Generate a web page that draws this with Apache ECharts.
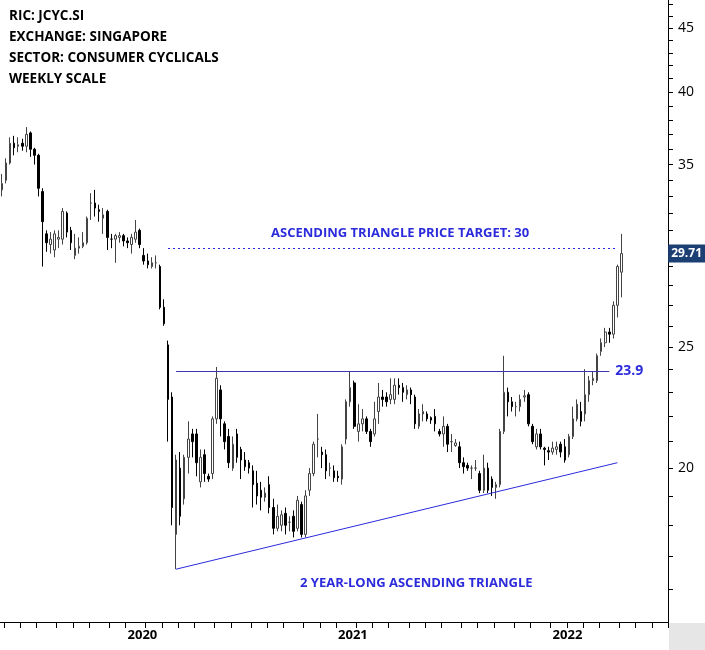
<!DOCTYPE html>
<html><head><meta charset="utf-8">
<script src="https://cdn.jsdelivr.net/npm/echarts@6/dist/echarts.min.js"></script>
<style>html,body{margin:0;padding:0;background:#fff}#c{width:705px;height:650px}</style>
</head><body><div id="c"></div>
<script>
// weekly candles [open, close, low, high]
const candles = [
[33.4,33.8,33.0,34.4],[34.0,35.1,33.8,35.4],[35.1,36.4,35.0,36.8],[36.4,36.1,35.6,36.9],[36.2,36.3,35.8,36.8],
[36.4,36.2,35.9,36.7],[36.2,37.0,35.8,37.5],[37.1,36.0,35.5,37.2],[36.0,35.6,35.0,36.1],[35.6,33.5,33.0,35.7],
[33.3,31.5,29.0,33.5],[30.8,30.3,29.8,31.0],[30.2,30.5,29.7,30.9],[29.9,30.8,29.5,31.0],[30.5,30.6,30.0,31.0],
[30.5,32.1,30.2,32.3],[32.0,30.9,30.6,32.1],[31.0,30.3,29.9,31.2],[29.6,30.0,29.4,30.8],[30.0,30.1,29.7,30.6],
[30.1,30.3,30.0,30.9],[30.3,31.7,30.2,31.8],[32.6,32.6,31.6,33.2],[32.6,32.3,31.8,33.4],[32.2,32.1,31.5,32.5],
[31.7,31.9,30.8,32.3],[32.1,30.6,29.9,32.2],[30.5,30.5,30.0,30.8],[30.5,30.7,29.2,30.8],[30.6,30.7,30.3,30.9],
[30.7,30.4,30.1,30.8],[30.4,30.3,30.0,30.6],[30.2,30.6,29.7,30.8],[30.5,30.9,30.3,31.6],[31.0,30.2,30.0,31.1],
[29.6,29.3,29.1,30.0],[29.3,29.1,28.9,29.7],[29.0,29.2,28.9,29.5],[29.2,29.2,28.9,29.6],[29.0,26.9,26.8,29.1],
[26.9,26.1,26.0,27.3],[25.1,22.7,21.0,25.3],[22.8,18.6,18.0,23.0],[17.7,20.3,16.6,20.5],[20.0,18.3,18.0,20.6],
[18.9,20.4,18.7,20.5],[20.4,21.1,19.8,21.8],[21.3,21.0,20.4,21.5],[21.3,20.2,19.7,21.5],[19.5,20.4,19.3,20.7],
[20.5,19.8,19.5,20.7],[19.7,19.6,19.5,19.8],[19.8,21.9,19.6,22.0],[21.9,23.6,21.7,24.1],[23.1,21.9,21.2,23.3],
[21.7,21.0,20.7,21.8],[21.2,20.2,20.0,21.5],[20.0,20.9,19.9,21.2],[21.3,20.4,20.2,21.5],[20.7,20.3,19.6,20.8],
[20.3,20.05,19.9,20.6],[20.2,20.0,19.8,20.3],[19.9,19.4,18.6,20.1],[19.45,19.0,18.7,19.9],[19.2,18.95,18.5,19.5],
[18.95,19.1,18.8,19.3],[19.4,18.6,18.4,19.7],[18.6,17.9,17.7,18.9],[17.9,18.3,17.8,18.7],[18.0,18.35,17.8,18.5],
[18.4,18.0,17.7,18.6],[18.1,18.1,17.8,18.3],[18.3,17.8,17.6,18.5],[17.9,18.85,17.8,19.0],[18.7,17.7,17.6,18.8],
[17.7,19.0,17.6,19.2],[19.2,19.8,19.0,20.0],[19.8,20.9,19.7,21.0],[21.1,21.1,20.4,22.1],[20.6,20.5,20.0,20.8],
[20.5,19.9,19.6,20.7],[20.0,20.0,19.7,20.2],[19.9,19.65,19.5,20.1],[19.7,19.65,19.5,19.9],[19.6,20.8,19.4,20.9],
[21.1,22.6,20.9,22.7],[22.6,23.2,22.4,23.9],[23.4,21.6,21.5,23.5],[21.4,21.7,21.0,22.5],[21.7,21.9,21.4,22.3],
[21.9,21.4,21.3,22.0],[21.4,21.0,20.8,21.5],[21.3,21.9,21.2,22.6],[22.2,22.8,21.7,23.4],[22.8,22.7,22.4,23.1],
[22.8,22.6,22.4,23.0],[22.7,22.9,22.5,23.6],[22.7,23.3,22.5,23.6],[23.3,23.2,22.9,23.6],[23.2,23.0,22.6,23.4],
[22.9,23.1,22.7,23.3],[23.1,22.9,22.5,23.2],[22.8,21.7,21.5,22.9],[21.6,22.1,21.5,22.3],[22.1,22.2,21.8,22.5],
[22.1,21.9,21.8,22.2],[21.95,21.85,21.7,22.0],[22.0,21.7,21.4,22.3],[21.4,21.3,21.2,21.5],[21.3,21.6,20.8,22.0],
[21.6,20.9,20.6,21.7],[21.0,21.0,20.6,21.3],[20.85,20.95,20.8,21.1],[20.8,20.2,20.0,21.0],[20.2,20.05,19.8,20.4],
[20.1,20.0,19.9,20.2],[20.0,20.0,19.6,20.1],[20.0,20.0,19.9,20.3],[19.8,19.2,19.1,19.9],[19.2,20.0,19.1,20.5],
[20.0,19.2,19.1,20.2],[19.6,19.3,19.0,19.7],[19.3,19.4,18.9,19.5],[19.4,21.4,19.3,21.5],[21.4,23.0,21.3,24.6],
[23.0,22.6,22.0,23.2],[22.6,22.4,22.2,22.8],[22.4,22.4,22.0,22.6],[22.4,22.7,22.2,22.9],[22.8,22.85,22.6,23.1],
[22.9,21.7,21.6,23.0],[21.6,21.0,20.9,21.7],[20.8,21.3,20.7,21.5],[21.3,20.8,20.7,21.5],[20.75,20.7,20.1,20.8],
[20.65,20.6,20.3,20.8],[20.6,20.75,20.5,21.0],[20.7,20.8,20.5,21.0],[20.9,20.6,20.4,21.0],[20.8,20.3,20.2,21.1],
[20.5,21.2,20.4,21.3],[21.2,21.9,21.1,22.4],[21.9,22.5,21.8,22.7],[22.2,21.8,21.6,22.6],[22.1,22.9,21.8,24.0],
[22.9,23.5,22.6,23.7],[23.5,23.6,23.3,23.9],[23.5,24.6,23.4,24.7],[24.8,25.2,24.6,25.4],[25.2,25.7,25.0,25.9],
[25.7,25.6,25.2,25.9],[25.6,27.0,25.4,27.2],[27.0,29.0,26.4,29.1],[28.7,29.7,27.4,30.8]
];
const startDate = '2019-05-31';
const totalWeeks = 165;
const priceTicks = [16,17,18,19,20,21,22,23,24,25,26,27,28,29,30,31,32,33,34,35,36,37,38,39,40,41,42,43,44,45,46,47];
const priceLabels = [20,25,35,40,45];
const lastPrice = 29.71;
const resistance = 23.9, target = 30;
const trendStart = {i:43, p:16.6}, trendEnd = {i:152, p:20.2};
const lineStart = 43, lineEnd = 150;
const texts = ['RIC: JCYC.SI','EXCHANGE: SINGAPORE','SECTOR: CONSUMER CYCLICALS','WEEKLY SCALE'];

const dates = [];
{ const d0 = new Date(startDate+'T00:00:00Z');
  for (let i=0;i<totalWeeks;i++){ const d=new Date(d0.getTime()+i*7*86400000); dates.push(d.toISOString().slice(0,10)); } }
const L = Math.log;
const data = candles.map(c=>c.map(L));
const blue = '#2b2bdc';
const monthStart = (i)=> i>0 && dates[i].slice(5,7)!==dates[i-1].slice(5,7);
const yearStart = (i)=> i>0 && dates[i].slice(0,4)!==dates[i-1].slice(0,4);

const chart = echarts.init(document.getElementById('c'));
chart.setOption({
  animation:false,
  backgroundColor:'#fff',
  title: texts.map((t,k)=>({text:t,left:4,top:4+k*21,textStyle:{fontFamily:'Open Sans',fontSize:13.5,fontWeight:'bold',color:'#000'}})).concat([
    {text:'ASCENDING TRIANGLE PRICE TARGET: 30',left:266,top:222,textStyle:{fontFamily:'Open Sans',fontSize:13,fontWeight:'bold',color:blue}},
    {text:'2 YEAR-LONG ASCENDING TRIANGLE',left:295,top:572,textStyle:{fontFamily:'Open Sans',fontSize:13,fontWeight:'bold',color:blue}}
  ]),
  graphic:[{type:'rect',right:0,bottom:0,shape:{width:36,height:27},style:{fill:'#e6e6e6'}}],
  grid:{left:0,right:37,top:0,bottom:28},
  xAxis:{type:'category',data:dates,boundaryGap:true,
    axisLine:{lineStyle:{color:'#000',width:1}},
    axisTick:{show:true,interval:(i)=>monthStart(i),length:6,lineStyle:{color:'#000'}},
    axisLabel:{interval:(i)=>yearStart(i),formatter:v=>v.slice(0,4),align:'left',margin:7,
      fontFamily:'Open Sans',fontSize:13,fontWeight:'bold',color:'#000'},
    splitLine:{show:false}},
  yAxis:{type:'value',position:'right',min:L(15.06),max:L(47.4),scale:true,
    axisLine:{show:true,lineStyle:{color:'#000'}},
    axisTick:{show:true,customValues:priceTicks.map(L),length:5,lineStyle:{color:'#000'}},
    axisLabel:{customValues:priceLabels.map(L),formatter:v=>String(Math.round(Math.exp(v))),margin:10,
      fontFamily:'Open Sans',fontSize:14,color:'#000'},
    splitLine:{show:false},
    axisPointer:{show:true,value:L(lastPrice),status:'show',triggerTooltip:false,lineStyle:{opacity:0},
      label:{formatter:()=>lastPrice.toFixed(2),backgroundColor:'#1c3f73',color:'#fff',fontWeight:'bold',
        fontFamily:'Open Sans',fontSize:12,padding:[3,3,3,3],borderRadius:0,margin:2}}},
  series:[{type:'candlestick',data:data,barMaxWidth:3.4,
    itemStyle:{color:'#fff',color0:'#000',borderColor:'#444',borderColor0:'#000',borderWidth:1},
    markLine:{silent:true,symbol:'none',animation:false,
      data:[
        [{coord:[lineStart,L(resistance)],lineStyle:{color:'#3a3ab0',width:1,type:'solid'},
          label:{show:true,position:'end',formatter:String(resistance),distance:6,
          color:blue,fontWeight:'bold',fontSize:14,fontFamily:'Open Sans'}},
         {coord:[lineEnd,L(resistance)]}],
        [{coord:[lineStart-2,L(target)],lineStyle:{color:blue,width:1,type:[2,3]},label:{show:false}},
         {coord:[lineEnd+2,L(target)]}],
        [{coord:[trendStart.i,L(trendStart.p)],lineStyle:{color:blue,width:1,type:'solid'},label:{show:false}},
         {coord:[trendEnd.i,L(trendEnd.p)]}]
      ]}}]
});
</script></body></html>
